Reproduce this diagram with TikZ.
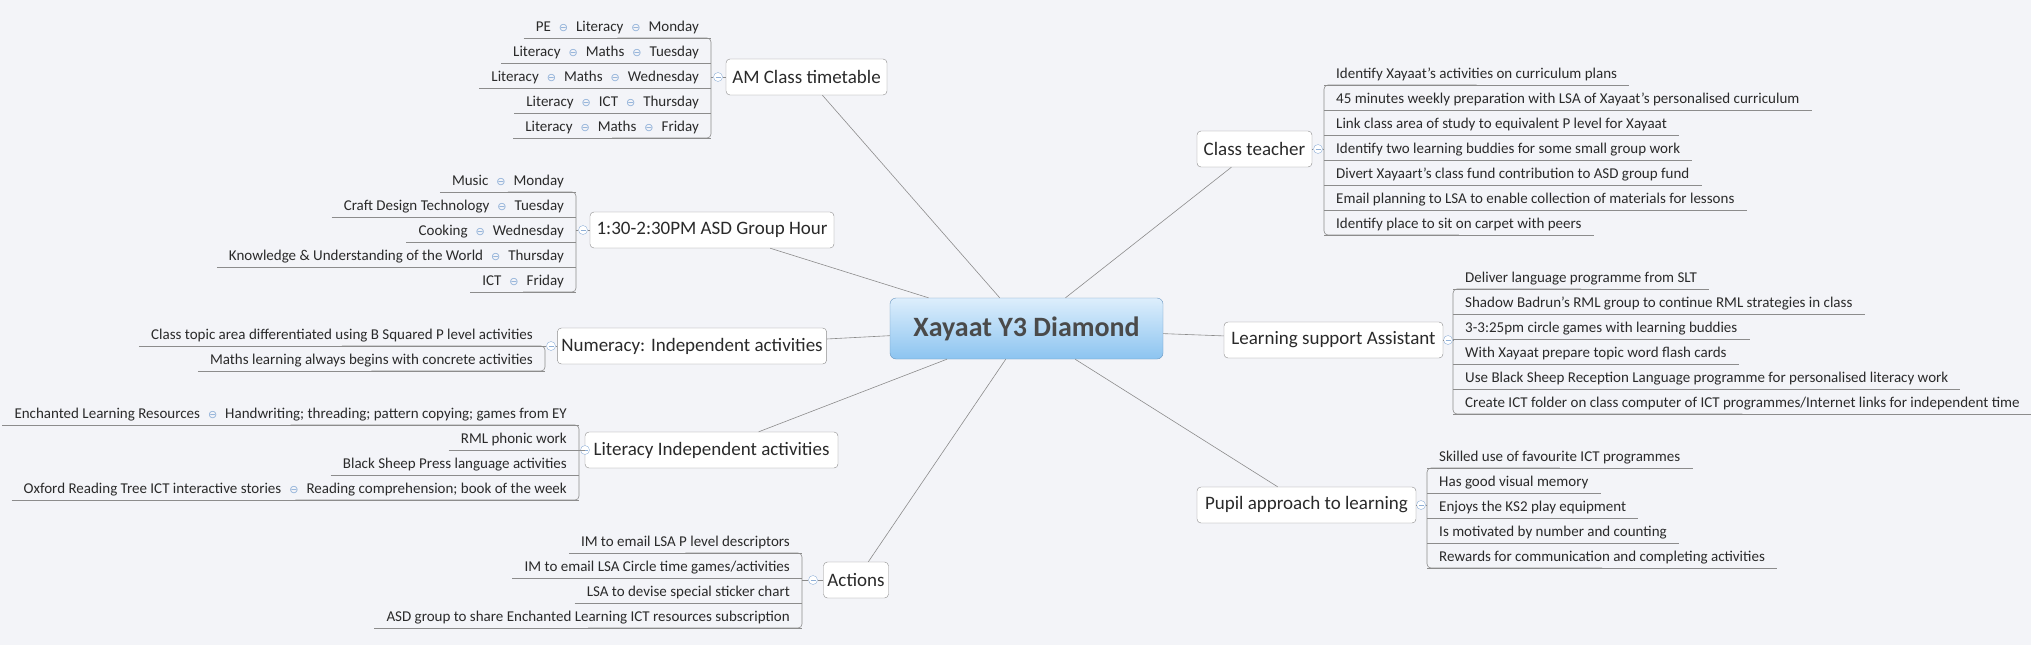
\documentclass[tikz,border=0pt]{standalone}
\usepackage{fontspec}
\setmainfont{Carlito}
\newfontfamily\dv{DejaVu Sans}
\definecolor{bg}{HTML}{F3F4F8}
\definecolor{ln}{HTML}{8C8C8C}
\definecolor{txt}{HTML}{2A2A2A}
\definecolor{icon}{HTML}{8FB0D8}
\definecolor{ctop}{HTML}{DDEEFC}
\definecolor{cbot}{HTML}{8CC4F0}
\definecolor{cbrd}{HTML}{6A96C0}
\newcommand\myic{\hspace{8pt}{\dv\color{icon}\fontsize{11}{11}\selectfont ⊖}\hspace{8pt}}
\begin{document}
\begin{tikzpicture}[x=1pt,y=-1pt,
  rowR/.style={anchor=south west,font=\fontsize{15}{17}\selectfont,text=txt,inner xsep=12pt,inner ysep=3pt,text height=10pt,text depth=3pt},
  rowL/.style={anchor=south east,font=\fontsize{15}{17}\selectfont,text=txt,inner xsep=12pt,inner ysep=3pt,text height=10pt,text depth=3pt},
  topic/.style={draw=ln,fill=white,rounded corners=4pt,font=\fontsize{19}{21}\selectfont,text=txt,inner xsep=4pt,minimum height=36pt},
  ic/.style={circle,draw=icon,fill=white,inner sep=0pt,minimum size=9pt,path picture={\draw[icon] (path picture bounding box.west)++(2pt,0)--++(5pt,0);}},
  bl/.style={draw=ln,line width=0.6pt},
  br/.style={draw=ln,line width=0.6pt,rounded corners=4pt}]
\useasboundingbox[fill=bg] (0,0) rectangle (2031,645);
% central
\node[draw=cbrd,rounded corners=6pt,top color=ctop,bottom color=cbot,minimum width=273pt,minimum height=61pt,font=\bfseries\fontsize{28}{30}\selectfont,text=txt!85] (c) at (1026.5,328.5) {Xayaat Y3 Diamond};
% topics
\node[topic,minimum width=161pt] (am) at (806.5,77) {AM Class timetable};
\node[topic,minimum width=244pt] (asd) at (712,230) {1:30-2:30PM ASD Group Hour};
\node[topic,minimum width=268pt] (num) at (692,346) {Numeracy: Independent activities};
\node[topic,minimum width=253pt] (lit) at (711.5,450) {Literacy Independent activities};
\node[topic,minimum width=62pt] (act) at (856,580) {Actions};
\node[topic,minimum width=115pt] (ct) at (1254.5,149) {Class teacher};
\node[topic,minimum width=219pt] (lsa) at (1333.5,340) {Learning support Assistant};
\node[topic,minimum width=219pt] (pup) at (1306.5,505) {Pupil approach to learning};
\foreach \t in {am,asd,num,lit,act,ct,lsa,pup} \draw[bl] (c) -- (\t);
% right branches
\foreach[count=\i] \s/\y in {{Identify Xayaat's activities on curriculum plans}/85,
 {45 minutes weekly preparation with LSA of Xayaat's personalised curriculum}/110,
 {Link class area of study to equivalent P level for Xayaat}/135,
 {Identify two learning buddies for some small group work}/160,
 {Divert Xayaart's class fund contribution to ASD group fund}/185,
 {Email planning to LSA to enable collection of materials for lessons}/210,
 {Identify place to sit on carpet with peers}/235}
 {\node[rowR] (ct\i) at (1324,\y) {\s}; \draw[bl] (ct\i.south west) -- (ct\i.south east);}
\draw[br] (ct1.south) -| (ct7.south west) -- (ct7.south);
\node[ic] (cti) at (1318,149) {}; \draw[bl] (ct.east) -- (cti) -- (1324,149);
\foreach[count=\i] \s/\y in {{Deliver language programme from SLT}/289,
 {Shadow Badrun's RML group to continue RML strategies in class}/314,
 {3-3:25pm circle games with learning buddies}/339,
 {With Xayaat prepare topic word flash cards}/364,
 {Use Black Sheep Reception Language programme for personalised literacy work}/389,
 {Create ICT folder on class computer of ICT programmes/Internet links for independent time}/414}
 {\node[rowR] (ls\i) at (1453,\y) {\s}; \draw[bl] (ls\i.south west) -- (ls\i.south east);}
\draw[br] (ls1.south) -| (ls6.south west) -- (ls6.south);
\node[ic] (lsi) at (1448,340) {}; \draw[bl] (lsa.east) -- (lsi) -- (1453,340);
\foreach[count=\i] \s/\y in {{Skilled use of favourite ICT programmes}/468,
 {Has good visual memory}/493,
 {Enjoys the KS2 play equipment}/518,
 {Is motivated by number and counting}/543,
 {Rewards for communication and completing activities}/568}
 {\node[rowR] (pu\i) at (1427,\y) {\s}; \draw[bl] (pu\i.south west) -- (pu\i.south east);}
\draw[br] (pu1.south) -| (pu5.south west) -- (pu5.south);
\node[ic] (pui) at (1421,505) {}; \draw[bl] (pup.east) -- (pui) -- (1427,505);
% left branches
\foreach[count=\i] \s/\y in {{PE\myic Literacy\myic Monday}/38,
 {Literacy\myic Maths\myic Tuesday}/63,
 {Literacy\myic Maths\myic Wednesday}/88,
 {Literacy\myic ICT\myic Thursday}/113,
 {Literacy\myic Maths\myic Friday}/138}
 {\node[rowL] (am\i) at (711,\y) {\s}; \draw[bl] (am\i.south west) -- (am\i.south east);}
\draw[br] (am1.south) -| (am5.south east) -- (am5.south);
\node[ic] (ami) at (718,77) {}; \draw[bl] (am.west) -- (ami) -- (711,77);
\foreach[count=\i] \s/\y in {{Music\myic Monday}/192,
 {Craft Design Technology\myic Tuesday}/217,
 {Cooking\myic Wednesday}/242,
 {Knowledge \& Understanding of the World\myic Thursday}/267,
 {ICT\myic Friday}/292}
 {\node[rowL] (as\i) at (576,\y) {\s}; \draw[bl] (as\i.south west) -- (as\i.south east);}
\draw[br] (as1.south) -| (as5.south east) -- (as5.south);
\node[ic] (asi) at (583,230) {}; \draw[bl] (asd.west) -- (asi) -- (576,230);
\foreach[count=\i] \s/\y in {{Class topic area differentiated using B Squared P level activities}/346,
 {Maths learning always begins with concrete activities}/371}
 {\node[rowL] (nu\i) at (545,\y) {\s}; \draw[bl] (nu\i.south west) -- (nu\i.south east);}
\draw[br] (nu1.south) -| (nu2.south east) -- (nu2.south);
\node[ic] (nui) at (551,346) {}; \draw[bl] (num.west) -- (nui) -- (545,346);
\foreach[count=\i] \s/\y in {{Enchanted Learning Resources\myic Handwriting; threading; pattern copying; games from EY}/425,
 {RML phonic work}/450,
 {Black Sheep Press language activities}/475,
 {Oxford Reading Tree ICT interactive stories\myic Reading comprehension; book of the week}/500}
 {\node[rowL] (li\i) at (579,\y) {\s}; \draw[bl] (li\i.south west) -- (li\i.south east);}
\draw[br] (li1.south) -| (li4.south east) -- (li4.south);
\node[ic] (lii) at (585,450) {}; \draw[bl] (lit.west) -- (lii) -- (579,450);
\foreach[count=\i] \s/\y in {{IM to email LSA P level descriptors}/553,
 {IM to email LSA Circle time games/activities}/578,
 {LSA to devise special sticker chart}/603,
 {ASD group to share Enchanted Learning ICT resources subscription}/628}
 {\node[rowL] (ac\i) at (802,\y) {\s}; \draw[bl] (ac\i.south west) -- (ac\i.south east);}
\draw[br] (ac1.south) -| (ac4.south east) -- (ac4.south);
\node[ic] (aci) at (813,580) {}; \draw[bl] (act.west) -- (aci) -- (802,580);
\end{tikzpicture}
\end{document}
